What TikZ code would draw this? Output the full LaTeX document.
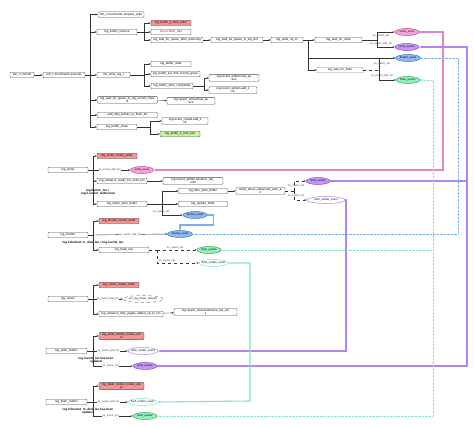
\documentclass[tikz,border=0pt]{standalone}
\usepackage{fontspec}
\setmainfont{Liberation Sans}
\usetikzlibrary{arrows.meta,shapes.geometric}
\definecolor{pinkL}{HTML}{E883C8}
\definecolor{pinkF}{HTML}{F3A4DA}
\definecolor{pinkD}{HTML}{C24C9E}
\definecolor{purpL}{HTML}{B384EF}
\definecolor{purpF}{HTML}{C597F3}
\definecolor{purpD}{HTML}{8A55D2}
\definecolor{blueL}{HTML}{7DB0EA}
\definecolor{blueF}{HTML}{8FB8EF}
\definecolor{blueD}{HTML}{3F79C9}
\definecolor{greenL}{HTML}{86E6C4}
\definecolor{greenF}{HTML}{92EFBA}
\definecolor{greenD}{HTML}{3DA76D}
\definecolor{redF}{HTML}{F39495}
\definecolor{limeF}{HTML}{C8F59C}
\newcommand{\bxfont}{\fontsize{3.0}{3.4}\selectfont}
\newcommand{\lbfont}{\fontsize{2.7}{3.1}\selectfont}
\begin{document}
\begin{tikzpicture}[x=1pt,y=-1pt,
  box/.style={draw=black!70, line width=0.4pt, rounded corners=0.8pt, fill=white, font=\bxfont, align=center, inner xsep=0.4pt, inner ysep=0.5pt, minimum height=5.5pt},
  redbox/.style={box, fill=redF},
  limebox/.style={box, fill=limeF},
  ev/.style={ellipse, draw, line width=0.5pt, font=\lbfont, inner xsep=-6pt, inner ysep=0pt, minimum height=7pt},
  evpink/.style={ev, draw=pinkD, fill=pinkF},
  evpurp/.style={ev, draw=purpD, fill=purpF},
  evblue/.style={ev, draw=blueD, fill=blueF},
  evgreen/.style={ev, draw=greenD, fill=greenF},
  edge/.style={draw=black!80, line width=0.4pt, -{Stealth[length=2.2pt,width=1.8pt]}},
  seg/.style={draw=black!80, line width=0.4pt},
  lbl/.style={font=\lbfont, text=black!75, inner sep=0.3pt},
  bl/.style={font=\bxfont\bfseries, align=center, inner sep=0pt},
  cline/.style={line width=1.1pt},
  dline/.style={line width=0.9pt, dash pattern=on 0.7pt off 0.7pt},
  ctip/.style={-{Stealth[length=3pt,width=2.6pt]}},
]
\fill[white] (0,0) rectangle (474,427);
\useasboundingbox (0,0) rectangle (474,427);

% ---------------- mtr_t::commit ----------------
\node[box,minimum width=24pt] (commit) at (22,75) {mtr\_t::commit};
\node[box,minimum width=42pt] (execute) at (64,75) {mtr\_t::Command::execute};
\node[box,minimum width=46pt] (prepare) at (121,14.5) {mtr\_t::Command::prepare\_write};
\node[box,minimum width=40pt] (reserve) at (117,32) {log\_buffer\_reserve};
\node[box,minimum width=33pt] (wlog) at (113.5,75) {mtr\_write\_log\_t};
\node[box,minimum width=60pt] (waitrc) at (127.5,100) {log\_wait\_for\_space\_in\_log\_recent\_close\\d};
\node[box,minimum width=60pt] (adddirty) at (127.5,115) {add\_dirty\_blocks\_to\_flush\_list};
\node[box,minimum width=40pt] (bclose) at (117,127) {log\_buffer\_close};

\node[redbox,minimum width=40pt] (lockenter) at (171,23) {log\_buffer\_s\_lock\_enter};
\node[box,minimum width=40pt,text=red!85!black] (fetchadd) at (171,32) {log.sn.fetch\_add};
\node[box,minimum width=52pt] (wfsar) at (177,40) {log\_wait\_for\_space\_after\_reserving};
\node[box,minimum width=52pt] (wfslb) at (237,40) {log\_wait\_for\_space\_in\_log\_buf};
\node[box,minimum width=32pt] (wut) at (287,40) {log\_write\_up\_to};
\node[box,minimum width=47pt] (wfw) at (338.5,40) {log\_wait\_for\_write};
\node[box,minimum width=46pt,draw=black!45] (wff) at (340,70) {log\_wait\_for\_flush};

\node[evpink,minimum width=24pt] (writerA) at (407,32) {writer\_event};
\node[evpurp,minimum width=24pt] (writesA) at (407,47) {write\_events};
\node[evblue,minimum width=25pt] (flusherA) at (408,58) {flusher\_event};
\node[evgreen,minimum width=24pt] (flushevA) at (408,80) {flush\_events};

\node[box,minimum width=40pt] (bwrite) at (171,64) {log\_buffer\_write};
\node[box,minimum width=49pt] (bsetfirst) at (175.5,74) {log\_buffer\_set\_first\_record\_group};
\node[box,minimum width=42pt] (bwcompl) at (172,86) {log\_buffer\_write\_completed};
\node[box,minimum width=50pt] (rwhas) at (234,78) {log.recent\_written.has\_sp\\ace};
\node[box,minimum width=48pt] (rwadd) at (233,90) {log.recent\_written.add\_li\\nk};
\node[box,minimum width=48pt] (rchas) at (191,101) {log.recent\_closed.has\_sp\\ace};
\node[box,minimum width=46pt] (rcadd) at (185,121) {log.recent\_closed.add\_li\\nk};
\node[limebox,minimum width=40pt] (lockexit) at (180,134) {log\_buffer\_s\_lock\_exit};

\coordinate (t1) at (90,75);
\draw[edge] (commit) -- (execute);
\draw[seg] (execute.east) -- (t1);
\foreach \n in {prepare,reserve,wlog,waitrc,adddirty,bclose} \draw[edge] (t1) |- (\n.west);
\coordinate (t2) at (144,32);
\draw[seg] (reserve.east) -- (t2);
\foreach \n in {lockenter,fetchadd,wfsar} \draw[edge] (t2) |- (\n.west);
\draw[edge] (wfsar) -- (wfslb);
\draw[edge] (wfslb) -- (wut);
\draw[edge] (wut) -- (wfw);
\coordinate (t3) at (308,40);
\coordinate (t4) at (379,58);
\coordinate (t5) at (379,70);
\draw[edge] (t3) |- (wff.west);
\draw[seg] (t3 |- t4) -- (t4);
\draw[seg,dashed] (wff.east) -- (t5);
\draw[edge] (t5) |- (flusherA.west);
\draw[edge] (t5) |- (flushevA.west);
\node[lbl] at (382,63.5) {os\_event\_set};
\node[lbl] at (382,75.5) {os\_event\_wait\_for};
\coordinate (t6) at (377,40);
\draw[seg] (wfw.east) -- (t6);
\draw[edge] (t6) |- (writerA.west);
\draw[edge] (t6) |- (writesA.west);
\node[lbl] at (381,35.5) {os\_event\_set};
\node[lbl] at (381,43.5) {os\_event\_wait\_for};

\coordinate (t7) at (144,75);
\draw[seg] (wlog.east) -- (t7);
\foreach \n in {bwrite,bsetfirst,bwcompl} \draw[edge] (t7) |- (\n.west);
\coordinate (t8) at (204,86);
\draw[seg] (bwcompl.east) -- (t8);
\draw[edge] (t8) |- (rwhas.west);
\draw[edge] (t8) |- (rwadd.west);
\draw[edge] (waitrc) -- (rchas);
\coordinate (t9) at (150,127);
\draw[seg] (bclose.east) -- (t9);
\draw[edge] (t9) |- (rcadd.west);
\draw[edge] (t9) |- (lockexit.west);

% ---------------- log_writer ----------------
\node[box,minimum width=40pt] (writer) at (68,170) {log\_writer};
\node[redbox,minimum width=40pt] (wmutex) at (117,156) {log\_writer\_mutex\_enter};
\node[evpink,minimum width=23pt] (writerB) at (142,170) {writer\_event};
\node[box,minimum width=50pt] (advready) at (122,181) {log\_advance\_ready\_for\_write\_lsn};
\node[box,minimum width=60pt] (rwtail) at (193,181) {log.recent\_written.advance\_tail\_\\until};
\node[bl] at (98,192.5) {log.li.write\_lsn <\\log.li.recent\_written.tail};
\node[box,minimum width=50pt] (wwbuf) at (122,204) {log\_writer\_write\_buffer};
\node[box,minimum width=49pt] (fwbuf) at (203,191) {log\_files\_write\_buffer};
\node[box,minimum width=49pt] (updlim) at (203,204) {log\_update\_limits};
\node[evblue,minimum width=24pt] (flusherB) at (195,215) {flusher\_event};
\node[box,minimum width=49pt] (notify) at (260.5,191) {notify\_about\_advanced\_write\_ls\\n};
\node[evpurp,minimum width=24pt] (writesB) at (318,181) {write\_events};
\node[ev,draw=purpL,fill=white,minimum width=38pt] (wnotB) at (326,200) {write\_notifier\_event};

\coordinate (w0) at (93,170);
\draw[seg] (writer.east) -- (w0);
\foreach \n in {wmutex,advready,wwbuf} \draw[edge] (w0) |- (\n.west);
\draw[edge] (w0) -- (writerB.west) node[lbl,fill=white,pos=0.45] {os\_event\_wait\_for};
\draw[edge] (advready) -- (rwtail);
\coordinate (w1) at (162,204);
\draw[seg] (wwbuf.east) -- (w1);
\draw[edge] (w1) |- (fwbuf.west);
\draw[edge] (w1) -- (updlim.west);
\draw[edge] (w1) |- (flusherB.west);
\node[lbl] at (161,211.5) {os\_event\_set};
\draw[edge] (fwbuf) -- (notify);
\coordinate (w2) at (294,191);
\draw[seg,dashed] (notify.east) -- (w2);
\draw[edge,dashed] (w2) |- (writesB.west);
\draw[edge,dashed] (w2) |- (wnotB.west);
\node[lbl] at (296,186) {os\_event\_set};
\node[lbl] at (296,196) {os\_event\_set};

% ---------------- log_flusher ----------------
\node[box,minimum width=40pt] (flusher) at (68,235) {log\_flusher};
\node[redbox,minimum width=40pt] (fmutex) at (119,221) {log\_flusher\_mutex\_enter};
\node[evblue,minimum width=25pt] (flusherC) at (180,234) {flusher\_event};
\node[bl] at (93,243) {log.li.flushed\_to\_disk\_lsn < log.li.write\_lsn};
\node[box,minimum width=50pt] (flushlow) at (124,250) {log\_flush\_low};
\node[evgreen,minimum width=24pt] (flushevB) at (209,250) {flush\_events};
\node[ev,draw=greenL,fill=white,minimum width=29pt] (fnotB) at (213.5,263) {flush\_notifier\_event};

\coordinate (f0) at (93,235);
\draw[seg] (flusher.east) -- (f0);
\draw[edge] (f0) |- (fmutex.west);
\draw[edge] (f0) |- (flushlow.west);
\draw[edge] (f0) -- (flusherC.west) node[lbl,fill=white,pos=0.5] {os\_event\_wait\_for};
\coordinate (f1) at (157,250);
\draw[seg,dashed] (flushlow.east) -- (f1);
\draw[edge,dashed] (f1) -- (flushevB.west);
\draw[edge,dashed] (f1) |- (fnotB.west);
\node[lbl] at (175,248) {os\_event\_set};
\node[lbl] at (167,261) {os\_event\_set};
\draw[blueL,cline,ctip] (flusherB.east) -- ++(6,0) |- (180,225) -- (flusherC.north);

% ---------------- log_closer ----------------
\node[box,minimum width=40pt] (closer) at (68,299) {log\_closer};
\node[redbox,minimum width=40pt] (cmutex) at (119,285) {log\_closer\_mutex\_enter};
\node[ev,draw=black!50,dashed,fill=white,minimum width=40pt] (ctime) at (143,299) {srv\_log\_closer\_timeout};
\node[box,minimum width=64pt] (advdirty) at (131,314) {log\_advance\_dirty\_pages\_added\_up\_to\_lsn};
\node[box,minimum width=63pt] (rctail) at (205.5,312) {log.recent\_closed.advance\_tail\_unt\\il};
\coordinate (c0) at (93,299);
\draw[seg] (closer.east) -- (c0);
\draw[edge] (c0) |- (cmutex.west);
\draw[edge] (c0) |- (advdirty.west);
\draw[edge] (c0) -- (ctime.west) node[lbl,fill=white,pos=0.5] {os\_event\_wait\_for};
\draw[edge] (advdirty) -- (rctail);

% ---------------- log_write_notifier ----------------
\node[box,minimum width=41pt] (wnotifier) at (66.5,351) {log\_write\_notifier};
\node[redbox,minimum width=45pt] (wnmutex) at (121.5,336) {log\_write\_notifier\_mutex\_ent\\er};
\node[ev,draw=purpL,fill=white,minimum width=30pt] (wnotC) at (143,351) {write\_notifier\_event};
\node[bl] at (96,360) {log.li.write\_lsn has been\\updated};
\node[evpurp,minimum width=24pt] (writesC) at (145,366) {write\_events};
\coordinate (n0) at (93,351);
\draw[seg] (wnotifier.east) -- (n0);
\draw[edge] (n0) |- (wnmutex.west);
\draw[edge] (n0) -- (wnotC.west) node[lbl,fill=white,pos=0.45] {os\_event\_wait\_for};
\draw[edge] (n0) |- (writesC.west) node[lbl,fill=white,pos=0.72] {os\_event\_set};

% ---------------- log_flush_notifier ----------------
\node[box,minimum width=41pt] (fnotifier) at (66.5,402) {log\_flush\_notifier};
\node[redbox,minimum width=45pt] (fnmutex) at (121.5,386) {log\_flush\_notifier\_mutex\_ent\\er};
\node[ev,draw=greenL,fill=white,minimum width=29pt] (fnotC) at (142.5,402) {flush\_notifier\_event};
\node[bl] at (88,411) {log.li.flushed\_to\_disk\_lsn has been\\updated};
\node[evgreen,minimum width=24pt] (flushevC) at (145,416) {flush\_events};
\coordinate (m0) at (93,402);
\draw[seg] (fnotifier.east) -- (m0);
\draw[edge] (m0) |- (fnmutex.west);
\draw[edge] (m0) -- (fnotC.west) node[lbl,fill=white,pos=0.45] {os\_event\_wait\_for};
\draw[edge] (m0) |- (flushevC.west) node[lbl,fill=white,pos=0.72] {os\_event\_set};

% ---------------- event links ----------------
\draw[pinkL,cline,ctip] (writerA.east) -- (443,32) -- (443,170) -- (writerB.east);
\draw[purpL,cline,ctip] (writesC.east) -- (467,366) -- (467,47) -- (writesA.east);
\draw[purpL,cline] (writesB.east) -- (467,181);
\draw[purpL,cline,ctip] (wnotB.east) -- (346,200) -- (346,351) -- (wnotC.east);
\draw[blueL,dline] (flusherA.east) -- (458,58) -- (458,234) -- (flusherC.east);
\draw[greenL,dline,ctip] (flushevC.east) -- (433,416) -- (433,80) -- (flushevA.east);
\draw[greenL,dline] (flushevB.east) -- (433,250);
\draw[greenL,cline,ctip] (fnotB.east) -- (250,263) -- (250,401) -- (fnotC.east);
\end{tikzpicture}
\end{document}
